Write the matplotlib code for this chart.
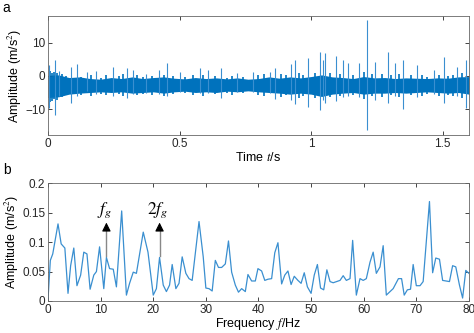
import numpy as np
import matplotlib
matplotlib.use('Agg')
import matplotlib.pyplot as plt

plt.rcParams['font.family'] = ['Liberation Sans', 'DejaVu Sans']
plt.rcParams['mathtext.fontset'] = 'stix'

## (a) time signal, read as band envelope + individual spikes
env_t = [0.0, 0.04, 0.08, 0.12, 0.16, 0.2, 0.24, 0.28, 0.32, 0.36, 0.4, 0.44, 0.48, 0.52,
         0.56, 0.6, 0.64, 0.68, 0.72, 0.76, 0.8, 0.84, 0.88, 0.92, 0.96, 1.0, 1.04, 1.08,
         1.12, 1.16, 1.2, 1.24, 1.28, 1.32, 1.36, 1.4, 1.44, 1.48, 1.52, 1.56, 1.6]
env_hi = [0.2, 0.3, -0.5, -0.3, -0.8, -1.0, -0.5, -0.8, -0.3, -0.8, -0.5, -0.3, -0.7, -0.9,
          -0.5, -0.8, -0.6, -0.9, -0.6, -1.0, -0.8, -0.3, -0.7, -0.3, -0.6, -0.2, 0.3, -0.3,
          -0.5, -0.8, -0.2, -0.6, -0.5, -0.8, -0.6, -0.7, -0.8, -0.6, -0.7, -0.3, -0.2]
env_lo = [-6.5, -6.3, -5.5, -5.2, -5.0, -4.8, -5.0, -4.8, -5.2, -5.0, -4.8, -5.2, -4.8, -4.6,
          -5.0, -4.8, -5.0, -4.6, -4.8, -4.5, -4.8, -5.0, -5.2, -5.5, -5.2, -5.5, -6.2, -5.5,
          -5.2, -5.0, -5.5, -5.2, -5.2, -5.0, -5.2, -5.0, -4.8, -5.0, -5.2, -5.0, -5.5]

spike_t = [0.002, 0.028, 0.042, 0.089, 0.11, 0.148, 0.184, 0.247, 0.30, 0.324, 0.374, 0.421,
           0.454, 0.50, 0.577, 0.609, 0.657, 0.717, 0.78, 0.844, 0.863, 0.924, 0.937, 0.99,
           1.032, 1.044, 1.053, 1.095, 1.123, 1.142, 1.184, 1.212, 1.244, 1.292, 1.32, 1.351,
           1.402, 1.466, 1.504, 1.555, 1.589]
spike_hi = [3.3, 4.8, 1.6, 2.8, 3.5, 1.3, 1.5, 2.8, 2.5, 1.8, 0.5, 1.8,
            3.8, 1.3, 2.3, 1.8, 2.5, 0.8, 1.3, 1.3, 2.3, 3.6, 4.8, 5.3,
            7.3, 4.8, 6.8, 6.0, 4.8, 3.8, 4.0, 16.8, 4.3, 7.3, 3.8, 4.8,
            3.3, 1.8, 5.6, 2.8, 4.8]
spike_lo = [-9.7, -11.7, -6.2, -8.2, -6.2, -4.7, -5.5, -6.2, -6.7, -5.5, -5.2, -5.5,
            -6.2, -5.0, -5.2, -5.3, -6.7, -5.0, -5.0, -5.3, -6.9, -7.2, -8.4, -9.4,
            -10.2, -7.2, -8.2, -7.7, -6.5, -6.0, -6.5, -16.2, -7.2, -8.2, -6.2, -10.0,
            -6.5, -5.5, -8.2, -6.0, -9.7]

# smaller bursts that make the band edge ragged
burst_t = [0.008, 0.015, 0.022, 0.035, 0.055, 0.07, 0.125, 0.165, 0.2, 0.22, 0.27, 0.285,
           0.34, 0.36, 0.395, 0.44, 0.475, 0.52, 0.55, 0.59, 0.635, 0.68, 0.7, 0.74, 0.8,
           0.82, 0.885, 0.905, 0.955, 0.97, 1.015, 1.07, 1.11, 1.16, 1.2, 1.23, 1.27, 1.305,
           1.335, 1.38, 1.42, 1.44, 1.485, 1.52, 1.54, 1.575]
burst_hi = [1.5, 0.8, 1.2, 1.0, 0.5, 0.0, -0.2, 0.2, -0.5, 0.3, 0.0, 0.5,
            0.2, -0.3, 0.0, 0.4, 0.0, -0.4, 0.2, 0.3, 0.0, -0.5, 0.1, -0.4, 0.2,
            0.5, 0.6, 0.2, 0.8, 0.4, 1.0, 0.8, 0.6, 0.3, 1.2, 0.5, 0.6, 0.2,
            0.6, 0.2, 0.4, -0.2, 0.3, 0.0, 0.4, 0.8]
burst_lo = [-8.0, -7.5, -7.0, -7.2, -6.5, -5.8, -5.7, -6.0, -5.5, -5.9, -5.6, -6.2,
            -5.8, -5.4, -5.7, -6.0, -5.6, -5.2, -5.8, -6.0, -5.6, -5.3, -5.7, -5.3, -5.8,
            -6.0, -6.3, -5.9, -6.6, -6.2, -6.8, -6.5, -6.2, -5.9, -7.0, -6.2, -6.4, -5.8,
            -6.5, -5.8, -6.0, -5.5, -6.0, -5.8, -6.2, -6.6]

## (b) spectrum
freq = [0.0, 0.44, 0.9, 1.9, 2.5, 3.2, 3.8, 4.3, 4.9, 5.5, 6.2, 6.8, 7.4, 8.0, 8.7, 9.2,
        9.8, 10.6, 11.1, 11.7, 12.4, 13.0, 14.0, 14.9, 15.5, 16.2, 16.8, 18.1, 19.0, 20.0,
        20.6, 21.2, 21.9, 22.5, 23.1, 23.6, 24.3, 24.9, 25.5, 26.2, 26.8, 27.4, 28.7, 29.5,
        30.0, 30.6, 31.2, 31.8, 32.4, 33.0, 33.7, 34.3, 34.9, 35.6, 36.2, 36.8, 37.5, 38.0,
        38.7, 39.4, 39.9, 40.6, 41.2, 41.8, 42.5, 43.1, 43.7, 44.4, 45.0, 45.6, 46.2, 46.8,
        47.5, 48.1, 48.7, 49.3, 50.0, 50.6, 51.2, 51.8, 52.4, 53.0, 53.6, 54.2, 55.5, 56.1,
        56.7, 57.4, 57.9, 58.6, 59.3, 59.9, 60.5, 61.2, 61.8, 62.4, 63.1, 63.7, 64.3, 65.6,
        66.6, 67.2, 67.7, 68.3, 68.9, 69.4, 70.0, 70.7, 71.3, 72.5, 73.1, 73.7, 74.4, 75.0,
        76.3, 76.9, 77.5, 78.2, 78.8, 79.4, 80.0]
amp = [0.003, 0.069, 0.08, 0.131, 0.097, 0.09, 0.013, 0.06, 0.09, 0.026, 0.044, 0.083,
       0.08, 0.02, 0.044, 0.05, 0.092, 0.021, 0.074, 0.055, 0.054, 0.024, 0.153, 0.01,
       0.03, 0.049, 0.047, 0.117, 0.083, 0.01, 0.021, 0.074, 0.027, 0.016, 0.027, 0.062,
       0.021, 0.03, 0.075, 0.047, 0.038, 0.035, 0.135, 0.075, 0.022, 0.021, 0.017, 0.069,
       0.057, 0.057, 0.063, 0.102, 0.049, 0.027, 0.015, 0.021, 0.016, 0.045, 0.034, 0.034,
       0.055, 0.051, 0.035, 0.037, 0.038, 0.082, 0.099, 0.029, 0.044, 0.051, 0.028, 0.042,
       0.035, 0.030, 0.048, 0.024, 0.013, 0.044, 0.062, 0.022, 0.019, 0.053, 0.033, 0.031,
       0.035, 0.043, 0.035, 0.038, 0.103, 0.01, 0.038, 0.035, 0.038, 0.066, 0.083, 0.047,
       0.058, 0.094, 0.01, 0.021, 0.038, 0.038, 0.01, 0.019, 0.020, 0.062, 0.026, 0.026,
       0.033, 0.169, 0.048, 0.073, 0.071, 0.035, 0.033, 0.06, 0.058, 0.027, 0.005, 0.052,
       0.047]

harm_f = [11.1, 21.2]
harm_lbl = [r'$f_g$', r'$2f_g$']

blue = '#0072BD'
light = '#3a8fd0'
fs = 8.5
lfs = 9

fig = plt.figure(figsize=(4.74, 3.33), dpi=100)
ax1 = fig.add_axes([0.1013, 0.5946, 0.888, 0.357])
ax2 = fig.add_axes([0.1013, 0.0961, 0.888, 0.3535])

# top panel
ax1.fill_between(env_t, env_lo, env_hi, color=blue, lw=0)
ax1.vlines(burst_t, burst_lo, burst_hi, colors=blue, lw=1.2)
ax1.vlines(spike_t, spike_lo, spike_hi, colors=light, lw=0.8)
ax1.set_xlim(0, 1.6)
ax1.set_ylim(-17.8, 18)
ax1.set_xticks([0, 0.5, 1, 1.5])
ax1.set_xticklabels(['0', '0.5', '1', '1.5'])
ax1.set_yticks([-10, 0, 10])
ax1.set_xlabel('Time $\\it{t}$/s', fontsize=lfs, labelpad=1)
ax1.set_ylabel('Amplitude (m/s$^2$)', fontsize=lfs, labelpad=1)

# bottom panel
ax2.plot(freq, amp, color=light, lw=0.9)
ax2.set_xlim(0, 80)
ax2.set_ylim(0, 0.2)
ax2.set_xticks(np.arange(0, 81, 10))
ax2.set_yticks([0, 0.05, 0.1, 0.15, 0.2])
ax2.set_yticklabels(['0', '0.05', '0.1', '0.15', '0.2'])
ax2.set_xlabel('Frequency $\\it{f}$/Hz', fontsize=lfs, labelpad=0)
ax2.set_ylabel('Amplitude (m/s$^2$)', fontsize=lfs, labelpad=1)

for f, lbl in zip(harm_f, harm_lbl):
    ax2.plot([f, f], [0.076, 0.126], color='#888888', lw=1.0)
    ax2.annotate('', xy=(f, 0.138), xytext=(f, 0.124),
                 arrowprops=dict(arrowstyle='-|>', color='k', lw=0.8, mutation_scale=13))
    ax2.text(f - 0.4, 0.154, lbl, fontsize=12.5, ha='center', va='center')

for ax in (ax1, ax2):
    ax.tick_params(direction='in', top=True, right=True, length=3, width=0.6,
                   labelsize=fs, pad=2, colors='#262626')
    for s in ax.spines.values():
        s.set_linewidth(0.6)
        s.set_color('#666666')

fig.text(0.006, 0.977, 'a', fontsize=10, va='center')
fig.text(0.006, 0.49, 'b', fontsize=10, va='center')

fig.savefig('out.png', dpi=100)
